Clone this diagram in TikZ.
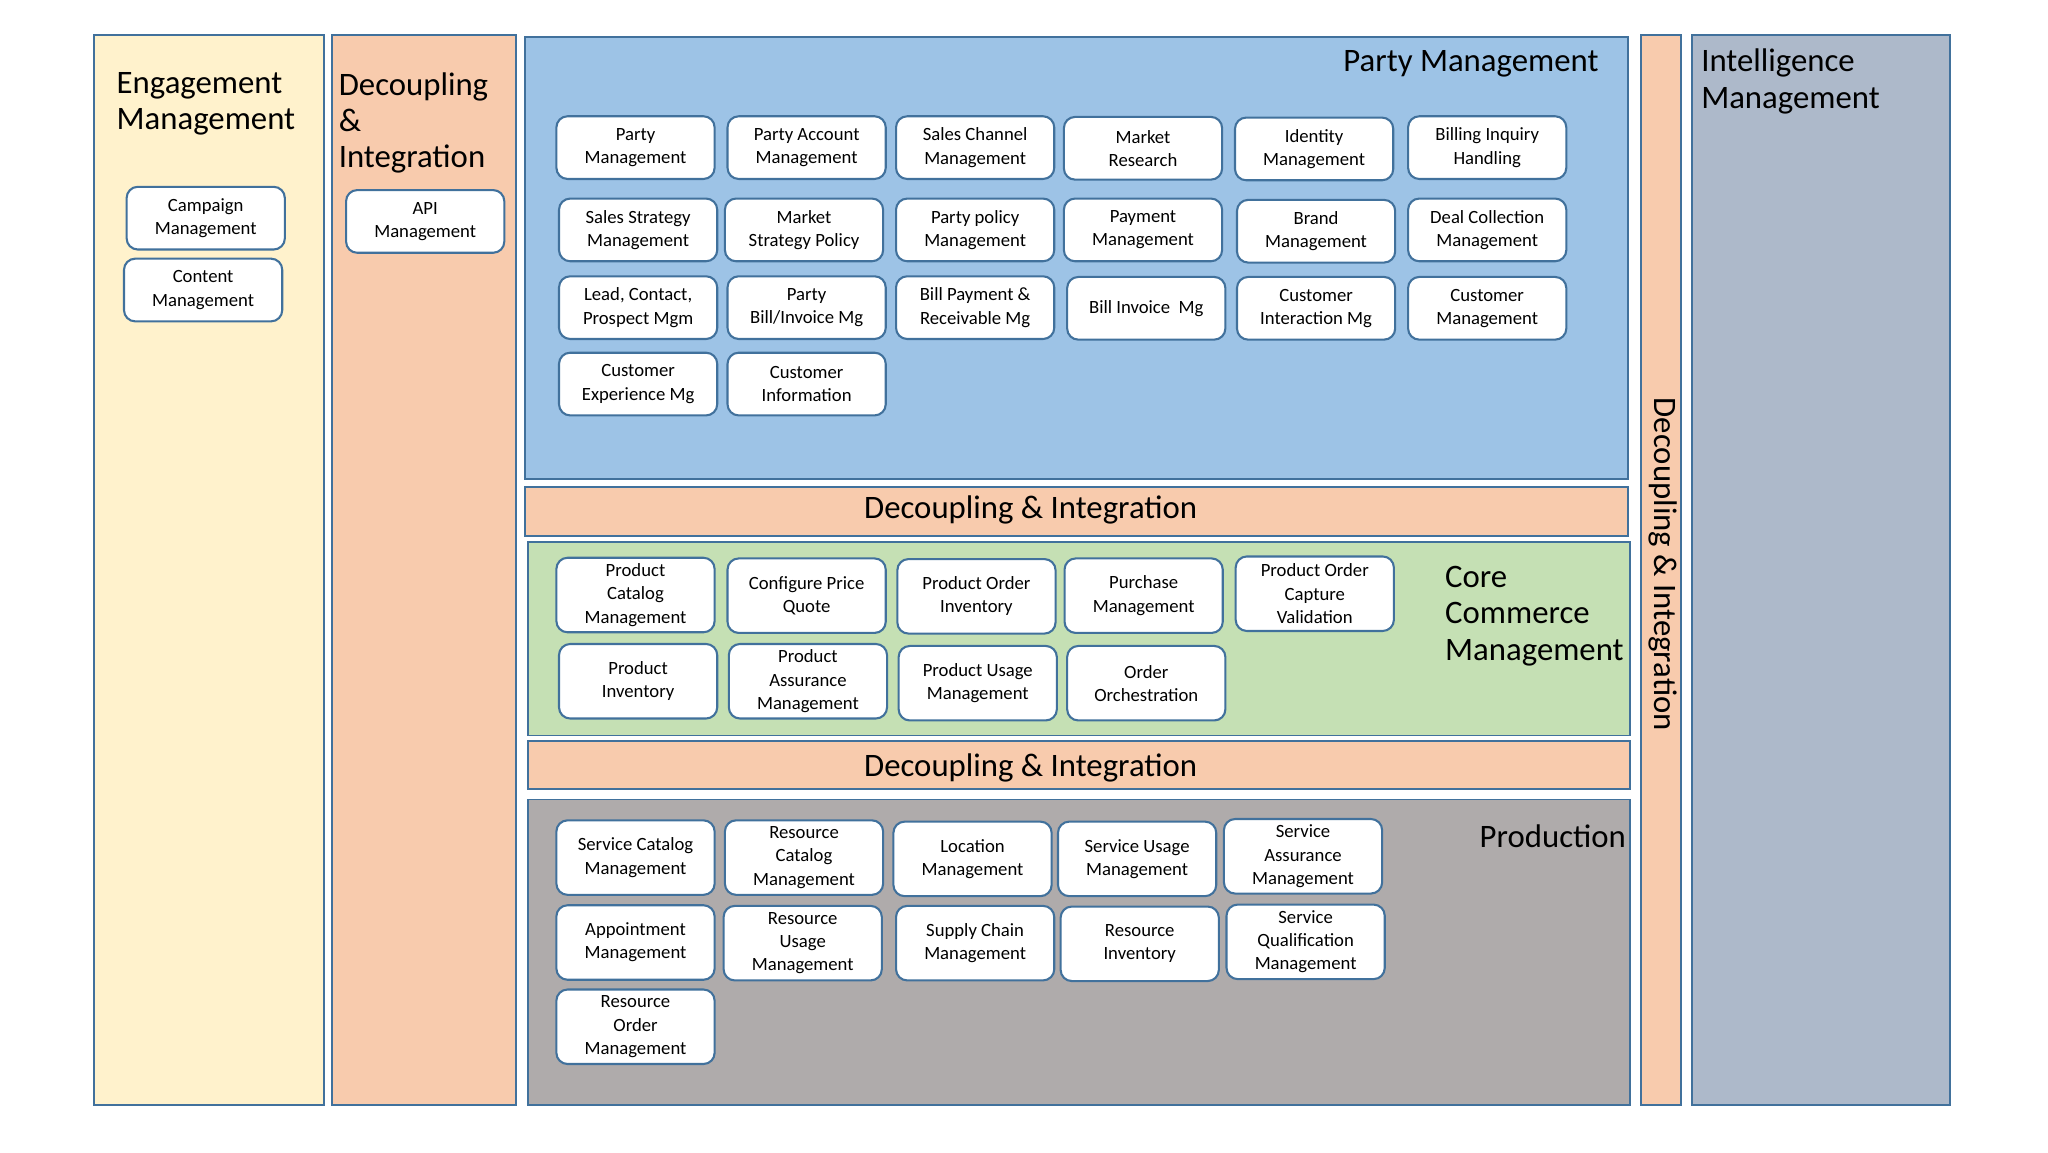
\documentclass[tikz,border=0pt]{standalone}
\usepackage{fontspec}
\setmainfont{Carlito}

\definecolor{edgeblue}{HTML}{41719C}
\definecolor{engagefill}{HTML}{FFF2CC}
\definecolor{decfill}{HTML}{F8CBAD}
\definecolor{partyfill}{HTML}{9DC3E6}
\definecolor{corefill}{HTML}{C5E0B4}
\definecolor{prodfill}{HTML}{AFABAB}
\definecolor{intelfill}{HTML}{ADB9CA}

\newcommand{\boxfont}{\fontsize{8.1}{10.05}\selectfont}
\newcommand{\headfont}{\fontsize{14.2}{15.8}\selectfont}

\tikzset{
    panel/.style={draw=edgeblue, line width=0.8pt},
    svc/.style={draw=edgeblue, fill=white, line width=0.9pt, rounded corners=0.17cm,
        minimum width=2.41cm, minimum height=0.955cm, align=center, inner sep=0pt, font=\boxfont},
    svctall/.style={svc, minimum height=1.135cm},
    heading/.style={inner sep=0pt, font=\headfont}
}

\begin{document}
\begin{tikzpicture}[x=0.0199cm, y=-0.0199cm]

    \useasboundingbox[fill=white] (0,0) rectangle (1567.8,881.9);

    % Draw the panels
    \draw[panel, fill=engagefill] (72,27) rectangle (248,846);
    \draw[panel, fill=decfill] (254,27) rectangle (395,846);
    \draw[panel, fill=partyfill] (402,28) rectangle (1246,367);
    \draw[panel, fill=decfill] (402,373) rectangle (1246,410);
    \draw[panel, fill=corefill] (404,415) rectangle (1248,563);
    \draw[panel, fill=decfill] (404,567) rectangle (1248,604);
    \draw[panel, fill=prodfill] (404,612) rectangle (1248,846);
    \draw[panel, fill=decfill] (1256,27) rectangle (1287,846);
    \draw[panel, fill=intelfill] (1295,27) rectangle (1493,846);

    % Label the panels
    \node[heading, anchor=north west, align=left] (engtitle) at (89,55) {Engagement\\Management};
    \node[heading, anchor=north west, align=left] (dectitle) at (259,55) {Decoupling\\\&\\Integration};
    \node[heading, anchor=north east] (partytitle) at (1224,38) {Party Management};
    \node[heading, anchor=north west, align=left] (inteltitle) at (1302,37) {Intelligence\\Management};
    \node[heading] (bar1) at (789,390) {Decoupling \& Integration};
    \node[heading] (bar2) at (789,588) {Decoupling \& Integration};
    \node[heading, anchor=north west, align=left] (coretitle) at (1106,433) {Core\\Commerce\\Management};
    \node[heading, anchor=north east] (prodtitle) at (1245,631) {Production};
    \node[heading, rotate=-90] (sidebar) at (1273,432) {Decoupling \& Integration};

    % Engagement and API boxes
    \node[svc] (E1) at (157.5,167) {Campaign\\Management};
    \node[svc] (E2) at (155.5,222) {Content\\Management};
    \node[svc] (D1) at (325.5,169.5) {API\\Management};

    % Party Management boxes
    \node[svc] (P1) at (486.5,113) {Party\\Management};
    \node[svc] (P2) at (617.5,113) {Party Account\\Management};
    \node[svc] (P3) at (746.5,113) {Sales Channel\\Management};
    \node[svc] (P4) at (875,113.5) {Market\\Research};
    \node[svc] (P5) at (1006,114) {Identity\\Management};
    \node[svc] (P6) at (1138.5,113) {Billing Inquiry\\Handling};
    \node[svc] (P7) at (488.5,176) {Sales Strategy\\Management};
    \node[svc] (P8) at (615.5,176) {Market\\Strategy Policy};
    \node[svc] (P9) at (746.5,176) {Party policy\\Management};
    \node[svc] (P10) at (875,176) {Payment\\Management};
    \node[svc] (P11) at (1007.5,177) {Brand\\Management};
    \node[svc] (P12) at (1138.5,176) {Deal Collection\\Management};
    \node[svc] (P13) at (488.5,235.5) {Lead, Contact,\\Prospect Mgm};
    \node[svc] (P14) at (617.5,235.5) {Party\\Bill/Invoice Mg};
    \node[svc] (P15) at (746.5,235.5) {Bill Payment \&\\Receivable Mg};
    \node[svc] (P16) at (877.5,236) {Bill Invoice~~Mg};
    \node[svc] (P17) at (1007.5,236) {Customer\\Interaction Mg};
    \node[svc] (P18) at (1138.5,236) {Customer\\Management};
    \node[svc] (P19) at (488.5,294) {Customer\\Experience Mg};
    \node[svc] (P20) at (617.5,294) {Customer\\Information};

    % Core Commerce boxes
    \node[svctall] (C1) at (486.5,455.5) {Product\\Catalog\\Management};
    \node[svctall] (C2) at (617.5,456) {Configure Price\\Quote};
    \node[svctall] (C3) at (747.5,456.5) {Product Order\\Inventory};
    \node[svctall] (C4) at (875.5,456) {Purchase\\Management};
    \node[svctall] (C5) at (1006.5,454.5) {Product Order\\Capture\\Validation};
    \node[svctall] (C6) at (488.5,521.5) {Product\\Inventory};
    \node[svctall] (C7) at (618.5,521.5) {Product\\Assurance\\Management};
    \node[svctall] (C8) at (748.5,523) {Product Usage\\Management};
    \node[svctall] (C9) at (877.5,523) {Order\\Orchestration};

    % Production boxes
    \node[svctall] (S1) at (486.5,656.5) {Service Catalog\\Management};
    \node[svctall] (S2) at (615.5,656.5) {Resource\\Catalog\\Management};
    \node[svctall] (S3) at (744.5,657.5) {Location\\Management};
    \node[svctall] (S4) at (870.5,657.5) {Service Usage\\Management};
    \node[svctall] (S5) at (997.5,655.5) {Service\\Assurance\\Management};
    \node[svctall] (S6) at (486.5,721.5) {Appointment\\Management};
    \node[svctall] (S7) at (614.5,722) {Resource\\Usage\\Management};
    \node[svctall] (S8) at (746.5,722) {Supply Chain\\Management};
    \node[svctall] (S9) at (872.5,722.5) {Resource\\Inventory};
    \node[svctall] (S10) at (999.5,721) {Service\\Qualification\\Management};
    \node[svctall] (S11) at (486.5,786) {Resource\\Order\\Management};

\end{tikzpicture}
\end{document}
